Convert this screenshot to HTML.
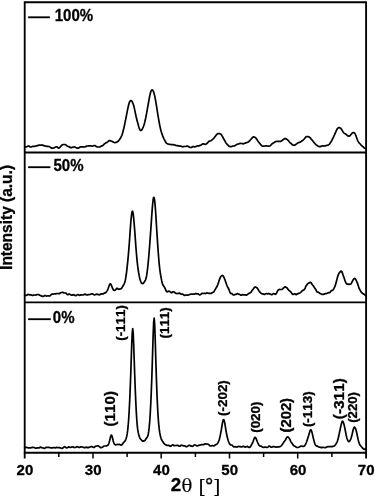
<!DOCTYPE html>
<html>
<head>
<meta charset="utf-8">
<title>XRD patterns</title>
<style>
html,body{margin:0;padding:0;background:#fff;}
body{width:376px;height:498px;overflow:hidden;}
svg{display:block;}
text{font-family:"Liberation Sans",sans-serif;font-weight:bold;fill:#000;stroke:#000;stroke-width:0.3px;font-kerning:none;}
.ax{stroke:#000;stroke-width:1.85;fill:none;stroke-linecap:butt;}
.tk{stroke:#000;stroke-width:1.5;fill:none;}
.cv{stroke:#000;stroke-width:1.7;fill:none;stroke-linejoin:round;stroke-linecap:round;}
.lg{font-size:16.3px;}
.tl{font-size:15px;text-anchor:middle;}
</style>
</head>
<body>
<svg width="376" height="498" viewBox="0 0 376 498">
<rect x="0" y="0" width="376" height="498" fill="#ffffff"/>

<!-- curves -->
<path class="cv" d="M24.7,146.7 L25.2,146.8 L25.7,146.9 L26.2,146.9 L26.7,146.7 L27.2,146.5 L27.7,146.2 L28.2,146.0 L28.7,146.0 L29.2,146.2 L29.7,146.6 L30.2,146.9 L30.7,147.0 L31.2,146.9 L31.7,146.7 L32.2,146.5 L32.7,146.4 L33.2,146.4 L33.7,146.4 L34.2,146.4 L34.7,146.3 L35.2,146.2 L35.7,146.0 L36.2,145.9 L36.7,145.8 L37.2,145.7 L37.7,145.6 L38.2,145.4 L38.7,145.2 L39.2,145.1 L39.7,145.1 L40.2,145.2 L40.7,145.2 L41.2,145.1 L41.7,145.1 L42.2,145.1 L42.7,145.1 L43.2,145.4 L43.7,145.6 L44.2,145.8 L44.7,145.9 L45.2,146.0 L45.7,146.1 L46.2,146.2 L46.7,146.4 L47.2,146.4 L47.7,146.4 L48.2,146.4 L48.7,146.5 L49.2,146.6 L49.7,146.8 L50.2,147.2 L50.7,147.6 L51.2,147.9 L51.7,148.1 L52.2,148.1 L52.7,148.1 L53.2,148.1 L53.7,148.0 L54.2,147.8 L54.7,147.5 L55.2,147.2 L55.7,147.0 L56.2,146.9 L56.7,146.8 L57.2,147.0 L57.7,147.4 L58.2,147.9 L58.7,148.1 L59.2,148.0 L59.7,147.6 L60.2,147.0 L60.7,146.4 L61.2,145.8 L61.7,145.3 L62.2,144.9 L62.7,144.7 L63.2,144.5 L63.7,144.5 L64.2,144.5 L64.7,144.5 L65.2,144.6 L65.7,144.8 L66.2,145.2 L66.7,145.7 L67.2,146.1 L67.7,146.3 L68.2,146.5 L68.7,146.6 L69.2,146.9 L69.7,147.1 L70.2,147.4 L70.7,147.6 L71.2,147.7 L71.7,147.6 L72.2,147.4 L72.7,147.2 L73.2,147.1 L73.7,147.0 L74.2,146.9 L74.7,147.0 L75.2,147.2 L75.7,147.5 L76.2,147.7 L76.7,147.9 L77.2,148.1 L77.7,148.2 L78.2,148.2 L78.7,148.0 L79.2,147.6 L79.7,147.2 L80.2,146.9 L80.7,146.8 L81.2,146.8 L81.7,146.9 L82.2,147.0 L82.7,146.9 L83.2,146.9 L83.7,146.9 L84.2,147.0 L84.7,147.0 L85.2,146.8 L85.7,146.6 L86.2,146.4 L86.7,146.1 L87.2,146.0 L87.7,146.0 L88.2,145.9 L88.7,145.9 L89.2,145.8 L89.7,145.8 L90.2,145.8 L90.7,145.8 L91.2,145.9 L91.7,146.0 L92.2,146.1 L92.7,146.0 L93.2,145.9 L93.7,145.7 L94.2,145.6 L94.7,145.6 L95.2,145.7 L95.7,146.0 L96.2,146.4 L96.7,146.7 L97.2,146.9 L97.7,147.0 L98.2,147.0 L98.7,147.0 L99.2,147.0 L99.7,146.9 L100.2,146.7 L100.7,146.4 L101.2,146.1 L101.7,145.9 L102.2,145.8 L102.7,145.6 L103.2,145.2 L103.7,144.7 L104.2,144.2 L104.7,143.7 L105.2,143.3 L105.7,143.0 L106.2,142.8 L106.7,142.6 L107.2,142.2 L107.7,141.8 L108.2,141.3 L108.7,141.0 L109.2,140.7 L109.7,140.6 L110.2,140.7 L110.7,140.9 L111.2,141.0 L111.7,141.2 L112.2,141.4 L112.7,141.7 L113.2,142.0 L113.7,142.3 L114.2,142.5 L114.7,142.6 L115.2,142.6 L115.7,142.5 L116.2,142.3 L116.7,142.2 L117.2,141.9 L117.7,141.6 L118.2,141.2 L118.7,140.6 L119.2,140.0 L119.7,139.3 L120.2,138.5 L120.7,137.7 L121.2,136.7 L121.7,135.6 L122.2,134.3 L122.7,132.7 L123.2,130.8 L123.7,128.8 L124.2,126.6 L124.7,124.2 L125.2,121.7 L125.7,119.3 L126.2,116.8 L126.7,114.2 L127.2,111.7 L127.7,109.2 L128.2,106.8 L128.7,104.7 L129.2,102.9 L129.7,101.7 L130.2,100.9 L130.7,100.6 L131.2,100.7 L131.7,101.1 L132.2,101.8 L132.7,102.8 L133.2,104.1 L133.7,105.7 L134.2,107.6 L134.7,109.9 L135.2,112.3 L135.7,114.7 L136.2,117.0 L136.7,119.0 L137.2,121.0 L137.7,122.9 L138.2,124.7 L138.7,126.5 L139.2,128.1 L139.7,129.3 L140.2,130.2 L140.7,130.5 L141.2,130.4 L141.7,129.9 L142.2,129.2 L142.7,128.2 L143.2,127.1 L143.7,125.7 L144.2,124.2 L144.7,122.4 L145.2,120.3 L145.7,118.0 L146.2,115.4 L146.7,112.8 L147.2,110.0 L147.7,107.2 L148.2,104.3 L148.7,101.5 L149.2,98.7 L149.7,96.1 L150.2,93.8 L150.7,92.0 L151.2,90.8 L151.7,90.1 L152.2,89.9 L152.7,90.2 L153.2,91.0 L153.7,92.2 L154.2,93.9 L154.7,95.9 L155.2,98.4 L155.7,101.2 L156.2,104.1 L156.7,107.2 L157.2,110.4 L157.7,113.6 L158.2,116.7 L158.7,119.6 L159.2,122.4 L159.7,125.1 L160.2,127.5 L160.7,129.7 L161.2,131.5 L161.7,133.1 L162.2,134.5 L162.7,135.9 L163.2,137.2 L163.7,138.3 L164.2,139.3 L164.7,140.2 L165.2,141.2 L165.7,142.0 L166.2,142.8 L166.7,143.3 L167.2,143.7 L167.7,143.9 L168.2,144.0 L168.7,144.2 L169.2,144.3 L169.7,144.3 L170.2,144.4 L170.7,144.5 L171.2,144.6 L171.7,144.6 L172.2,144.6 L172.7,144.7 L173.2,144.7 L173.7,144.8 L174.2,144.9 L174.7,145.0 L175.2,145.1 L175.7,145.4 L176.2,145.5 L176.7,145.7 L177.2,145.7 L177.7,145.7 L178.2,145.8 L178.7,145.8 L179.2,146.0 L179.7,146.1 L180.2,146.1 L180.7,146.1 L181.2,146.3 L181.7,146.5 L182.2,146.7 L182.7,146.8 L183.2,146.7 L183.7,146.6 L184.2,146.5 L184.7,146.5 L185.2,146.5 L185.7,146.5 L186.2,146.3 L186.7,146.1 L187.2,146.1 L187.7,146.1 L188.2,146.4 L188.7,146.7 L189.2,147.1 L189.7,147.3 L190.2,147.5 L190.7,147.5 L191.2,147.4 L191.7,147.2 L192.2,146.9 L192.7,146.7 L193.2,146.6 L193.7,146.6 L194.2,146.8 L194.7,146.8 L195.2,146.8 L195.7,146.6 L196.2,146.4 L196.7,146.2 L197.2,146.0 L197.7,145.9 L198.2,145.9 L198.7,145.9 L199.2,145.8 L199.7,145.6 L200.2,145.4 L200.7,145.2 L201.2,144.9 L201.7,144.6 L202.2,144.2 L202.7,143.9 L203.2,143.8 L203.7,143.9 L204.2,144.1 L204.7,144.2 L205.2,144.3 L205.7,144.2 L206.2,144.0 L206.7,143.7 L207.2,143.2 L207.7,142.7 L208.2,142.1 L208.7,141.6 L209.2,141.3 L209.7,141.1 L210.2,141.0 L210.7,140.8 L211.2,140.5 L211.7,140.1 L212.2,139.6 L212.7,139.2 L213.2,138.8 L213.7,138.3 L214.2,137.8 L214.7,137.1 L215.2,136.4 L215.7,135.7 L216.2,135.1 L216.7,134.5 L217.2,134.1 L217.7,133.7 L218.2,133.6 L218.7,133.5 L219.2,133.6 L219.7,133.7 L220.2,133.8 L220.7,134.2 L221.2,134.7 L221.7,135.3 L222.2,136.1 L222.7,137.0 L223.2,138.0 L223.7,138.9 L224.2,139.8 L224.7,140.6 L225.2,141.5 L225.7,142.4 L226.2,143.2 L226.7,143.8 L227.2,144.4 L227.7,144.9 L228.2,145.4 L228.7,145.9 L229.2,146.2 L229.7,146.4 L230.2,146.6 L230.7,146.7 L231.2,146.6 L231.7,146.5 L232.2,146.3 L232.7,146.1 L233.2,146.0 L233.7,146.0 L234.2,145.9 L234.7,145.8 L235.2,145.5 L235.7,145.2 L236.2,144.8 L236.7,144.5 L237.2,144.3 L237.7,144.2 L238.2,144.0 L238.7,143.9 L239.2,143.7 L239.7,143.5 L240.2,143.4 L240.7,143.4 L241.2,143.5 L241.7,143.5 L242.2,143.7 L242.7,143.7 L243.2,143.8 L243.7,143.7 L244.2,143.5 L244.7,143.3 L245.2,143.1 L245.7,142.9 L246.2,142.7 L246.7,142.6 L247.2,142.5 L247.7,142.3 L248.2,142.1 L248.7,141.7 L249.2,141.2 L249.7,140.6 L250.2,140.1 L250.7,139.5 L251.2,139.0 L251.7,138.4 L252.2,137.8 L252.7,137.3 L253.2,136.9 L253.7,136.9 L254.2,137.0 L254.7,137.2 L255.2,137.5 L255.7,137.9 L256.2,138.5 L256.7,139.2 L257.2,139.9 L257.7,140.7 L258.2,141.4 L258.7,142.2 L259.2,142.8 L259.7,143.4 L260.2,144.0 L260.7,144.7 L261.2,145.2 L261.7,145.7 L262.2,146.0 L262.7,146.2 L263.2,146.2 L263.7,146.2 L264.2,146.1 L264.7,146.0 L265.2,146.0 L265.7,145.9 L266.2,145.9 L266.7,145.9 L267.2,146.0 L267.7,146.0 L268.2,146.1 L268.7,146.1 L269.2,146.1 L269.7,146.0 L270.2,145.7 L270.7,145.3 L271.2,144.7 L271.7,144.1 L272.2,143.7 L272.7,143.4 L273.2,143.1 L273.7,142.8 L274.2,142.5 L274.7,142.1 L275.2,141.9 L275.7,141.6 L276.2,141.5 L276.7,141.4 L277.2,141.4 L277.7,141.4 L278.2,141.4 L278.7,141.4 L279.2,141.4 L279.7,141.5 L280.2,141.4 L280.7,141.3 L281.2,141.1 L281.7,140.8 L282.2,140.4 L282.7,140.0 L283.2,139.6 L283.7,139.2 L284.2,138.9 L284.7,138.6 L285.2,138.6 L285.7,138.7 L286.2,138.9 L286.7,139.3 L287.2,139.6 L287.7,140.0 L288.2,140.5 L288.7,141.0 L289.2,141.7 L289.7,142.3 L290.2,142.8 L290.7,143.2 L291.2,143.7 L291.7,144.2 L292.2,144.7 L292.7,145.0 L293.2,145.2 L293.7,145.2 L294.2,145.2 L294.7,145.1 L295.2,144.9 L295.7,144.6 L296.2,144.2 L296.7,143.8 L297.2,143.4 L297.7,143.0 L298.2,142.8 L298.7,142.6 L299.2,142.4 L299.7,142.3 L300.2,142.1 L300.7,141.7 L301.2,141.4 L301.7,141.0 L302.2,140.7 L302.7,140.4 L303.2,140.0 L303.7,139.5 L304.2,139.0 L304.7,138.4 L305.2,137.7 L305.7,137.1 L306.2,136.7 L306.7,136.5 L307.2,136.5 L307.7,136.6 L308.2,136.7 L308.7,136.8 L309.2,137.0 L309.7,137.4 L310.2,137.9 L310.7,138.4 L311.2,139.1 L311.7,139.6 L312.2,140.2 L312.7,140.8 L313.2,141.5 L313.7,142.1 L314.2,142.7 L314.7,143.3 L315.2,143.9 L315.7,144.3 L316.2,144.8 L316.7,145.2 L317.2,145.6 L317.7,145.9 L318.2,146.2 L318.7,146.4 L319.2,146.6 L319.7,146.6 L320.2,146.6 L320.7,146.4 L321.2,146.3 L321.7,146.1 L322.2,146.0 L322.7,145.9 L323.2,145.8 L323.7,145.8 L324.2,145.9 L324.7,146.0 L325.2,145.9 L325.7,145.7 L326.2,145.5 L326.7,145.3 L327.2,145.3 L327.7,145.2 L328.2,145.0 L328.7,144.7 L329.2,144.3 L329.7,143.8 L330.2,143.1 L330.7,142.3 L331.2,141.5 L331.7,140.6 L332.2,139.6 L332.7,138.6 L333.2,137.6 L333.7,136.6 L334.2,135.5 L334.7,134.4 L335.2,133.2 L335.7,132.1 L336.2,130.9 L336.7,129.8 L337.2,128.9 L337.7,128.3 L338.2,127.9 L338.7,127.7 L339.2,127.6 L339.7,127.7 L340.2,128.0 L340.7,128.4 L341.2,128.9 L341.7,129.6 L342.2,130.4 L342.7,131.3 L343.2,132.2 L343.7,132.8 L344.2,133.2 L344.7,133.5 L345.2,133.7 L345.7,134.0 L346.2,134.5 L346.7,134.9 L347.2,135.4 L347.7,135.7 L348.2,136.0 L348.7,136.1 L349.2,136.1 L349.7,135.9 L350.2,135.4 L350.7,134.8 L351.2,134.2 L351.7,133.6 L352.2,133.1 L352.7,132.7 L353.2,132.5 L353.7,132.5 L354.2,132.7 L354.7,133.3 L355.2,134.0 L355.7,135.1 L356.2,136.4 L356.7,137.9 L357.2,139.3 L357.7,140.6 L358.2,141.6 L358.7,142.4 L359.2,143.0 L359.7,143.5 L360.2,144.0 L360.7,144.6 L361.2,145.1 L361.7,145.7 L362.2,146.1 L362.7,146.5 L363.2,146.9 L363.7,147.4 L364.2,147.9 L364.7,148.2 L365.2,148.5 L365.7,148.7"/>
<path class="cv" d="M24.7,295.5 L25.2,295.4 L25.7,295.4 L26.2,295.4 L26.7,295.2 L27.2,294.9 L27.7,294.6 L28.2,294.4 L28.7,294.5 L29.2,294.7 L29.7,294.8 L30.2,294.8 L30.7,294.8 L31.2,295.0 L31.7,295.2 L32.2,295.3 L32.7,295.3 L33.2,295.3 L33.7,295.1 L34.2,295.0 L34.7,295.0 L35.2,295.1 L35.7,295.0 L36.2,294.9 L36.7,294.8 L37.2,294.6 L37.7,294.5 L38.2,294.5 L38.7,294.6 L39.2,294.9 L39.7,295.3 L40.2,295.5 L40.7,295.7 L41.2,295.8 L41.7,296.1 L42.2,296.3 L42.7,296.4 L43.2,296.3 L43.7,296.2 L44.2,295.9 L44.7,295.6 L45.2,295.6 L45.7,295.8 L46.2,296.0 L46.7,296.1 L47.2,296.0 L47.7,295.9 L48.2,295.9 L48.7,295.9 L49.2,296.0 L49.7,296.0 L50.2,295.7 L50.7,295.2 L51.2,294.6 L51.7,294.2 L52.2,294.1 L52.7,294.2 L53.2,294.1 L53.7,294.0 L54.2,293.9 L54.7,293.9 L55.2,293.9 L55.7,293.8 L56.2,293.7 L56.7,293.6 L57.2,293.5 L57.7,293.5 L58.2,293.6 L58.7,293.7 L59.2,293.7 L59.7,293.4 L60.2,293.0 L60.7,292.7 L61.2,292.5 L61.7,292.5 L62.2,292.4 L62.7,292.4 L63.2,292.6 L63.7,292.8 L64.2,293.0 L64.7,293.0 L65.2,293.0 L65.7,293.0 L66.2,293.4 L66.7,294.0 L67.2,294.5 L67.7,294.7 L68.2,294.4 L68.7,294.2 L69.2,294.1 L69.7,294.2 L70.2,294.5 L70.7,294.8 L71.2,295.1 L71.7,295.2 L72.2,295.1 L72.7,294.9 L73.2,294.7 L73.7,294.7 L74.2,294.9 L74.7,295.2 L75.2,295.5 L75.7,295.6 L76.2,295.6 L76.7,295.2 L77.2,294.8 L77.7,294.6 L78.2,294.6 L78.7,294.9 L79.2,295.2 L79.7,295.3 L80.2,295.1 L80.7,294.9 L81.2,294.9 L81.7,294.9 L82.2,295.0 L82.7,295.0 L83.2,294.9 L83.7,294.7 L84.2,294.4 L84.7,294.2 L85.2,294.2 L85.7,294.5 L86.2,294.8 L86.7,295.0 L87.2,294.9 L87.7,294.8 L88.2,294.7 L88.7,294.6 L89.2,294.6 L89.7,294.5 L90.2,294.4 L90.7,294.2 L91.2,294.0 L91.7,293.8 L92.2,293.8 L92.7,293.9 L93.2,294.3 L93.7,294.6 L94.2,294.8 L94.7,294.8 L95.2,294.7 L95.7,294.5 L96.2,294.3 L96.7,294.2 L97.2,294.3 L97.7,294.3 L98.2,294.5 L98.7,294.7 L99.2,294.8 L99.7,294.7 L100.2,294.4 L100.7,294.1 L101.2,293.9 L101.7,293.8 L102.2,293.8 L102.7,293.9 L103.2,293.9 L103.7,293.6 L104.2,293.2 L104.7,292.9 L105.2,292.8 L105.7,292.7 L106.2,292.2 L106.7,291.4 L107.2,290.6 L107.7,289.7 L108.2,288.5 L108.7,287.0 L109.2,285.5 L109.7,284.3 L110.2,283.8 L110.7,284.1 L111.2,285.0 L111.7,286.2 L112.2,287.4 L112.7,288.7 L113.2,289.7 L113.7,290.2 L114.2,290.3 L114.7,290.3 L115.2,290.2 L115.7,289.7 L116.2,289.0 L116.7,288.4 L117.2,288.3 L117.7,288.6 L118.2,289.1 L118.7,289.3 L119.2,289.2 L119.7,289.0 L120.2,288.9 L120.7,288.9 L121.2,288.7 L121.7,288.2 L122.2,287.3 L122.7,286.4 L123.2,285.5 L123.7,284.7 L124.2,283.8 L124.7,282.5 L125.2,280.7 L125.7,278.2 L126.2,275.0 L126.7,271.1 L127.2,266.7 L127.7,261.9 L128.2,256.7 L128.7,250.9 L129.2,244.6 L129.7,237.7 L130.2,230.4 L130.7,223.5 L131.2,217.8 L131.7,213.6 L132.2,211.3 L132.7,211.4 L133.2,213.8 L133.7,218.3 L134.2,224.0 L134.7,230.5 L135.2,237.4 L135.7,244.4 L136.2,250.8 L136.7,256.6 L137.2,261.8 L137.7,266.2 L138.2,269.8 L138.7,273.0 L139.2,275.7 L139.7,278.1 L140.2,280.0 L140.7,281.5 L141.2,282.6 L141.7,283.2 L142.2,283.5 L142.7,283.6 L143.2,283.4 L143.7,282.9 L144.2,282.1 L144.7,281.3 L145.2,280.6 L145.7,279.5 L146.2,277.8 L146.7,275.2 L147.2,271.7 L147.7,267.5 L148.2,262.7 L148.7,257.3 L149.2,251.2 L149.7,244.6 L150.2,237.9 L150.7,231.0 L151.2,223.8 L151.7,216.4 L152.2,209.4 L152.7,203.5 L153.2,199.3 L153.7,197.3 L154.2,197.8 L154.7,200.8 L155.2,206.1 L155.7,213.1 L156.2,221.0 L156.7,229.2 L157.2,237.1 L157.7,244.6 L158.2,251.7 L158.7,258.2 L159.2,263.9 L159.7,268.6 L160.2,272.4 L160.7,275.5 L161.2,278.2 L161.7,280.7 L162.2,282.9 L162.7,284.5 L163.2,285.4 L163.7,286.1 L164.2,286.8 L164.7,287.7 L165.2,288.7 L165.7,289.9 L166.2,291.0 L166.7,291.7 L167.2,291.8 L167.7,291.5 L168.2,291.3 L168.7,291.2 L169.2,291.2 L169.7,291.5 L170.2,291.8 L170.7,292.2 L171.2,292.6 L171.7,292.6 L172.2,292.4 L172.7,292.1 L173.2,291.8 L173.7,291.8 L174.2,292.0 L174.7,292.4 L175.2,292.9 L175.7,293.2 L176.2,293.4 L176.7,293.5 L177.2,293.6 L177.7,293.5 L178.2,293.4 L178.7,293.3 L179.2,293.2 L179.7,293.2 L180.2,293.5 L180.7,293.9 L181.2,294.2 L181.7,294.2 L182.2,294.1 L182.7,294.2 L183.2,294.5 L183.7,294.9 L184.2,295.3 L184.7,295.3 L185.2,295.2 L185.7,295.0 L186.2,295.0 L186.7,295.1 L187.2,295.1 L187.7,295.1 L188.2,295.0 L188.7,294.9 L189.2,294.7 L189.7,294.5 L190.2,294.2 L190.7,294.0 L191.2,294.0 L191.7,294.1 L192.2,294.2 L192.7,294.1 L193.2,294.1 L193.7,294.2 L194.2,294.2 L194.7,294.0 L195.2,293.7 L195.7,293.6 L196.2,293.7 L196.7,293.8 L197.2,293.8 L197.7,293.8 L198.2,293.9 L198.7,294.3 L199.2,294.7 L199.7,294.9 L200.2,294.7 L200.7,294.4 L201.2,294.0 L201.7,293.6 L202.2,293.3 L202.7,293.3 L203.2,293.5 L203.7,293.5 L204.2,293.4 L204.7,293.4 L205.2,293.5 L205.7,293.6 L206.2,293.3 L206.7,293.0 L207.2,292.8 L207.7,293.0 L208.2,293.2 L208.7,293.3 L209.2,293.3 L209.7,293.3 L210.2,293.3 L210.7,293.4 L211.2,293.4 L211.7,293.1 L212.2,292.8 L212.7,292.5 L213.2,292.2 L213.7,291.9 L214.2,291.2 L214.7,290.3 L215.2,289.4 L215.7,288.6 L216.2,287.8 L216.7,287.0 L217.2,286.0 L217.7,284.8 L218.2,283.4 L218.7,281.9 L219.2,280.3 L219.7,278.9 L220.2,277.6 L220.7,276.6 L221.2,276.1 L221.7,275.7 L222.2,275.4 L222.7,275.5 L223.2,276.0 L223.7,276.9 L224.2,277.9 L224.7,279.1 L225.2,280.5 L225.7,282.0 L226.2,283.4 L226.7,284.8 L227.2,286.1 L227.7,287.1 L228.2,288.0 L228.7,289.0 L229.2,290.3 L229.7,291.6 L230.2,292.8 L230.7,293.4 L231.2,293.5 L231.7,293.6 L232.2,293.9 L232.7,294.4 L233.2,294.9 L233.7,295.0 L234.2,294.9 L234.7,294.6 L235.2,294.5 L235.7,294.4 L236.2,294.3 L236.7,294.0 L237.2,293.7 L237.7,293.7 L238.2,294.0 L238.7,294.2 L239.2,294.3 L239.7,294.4 L240.2,294.7 L240.7,295.1 L241.2,295.2 L241.7,295.1 L242.2,294.8 L242.7,294.7 L243.2,294.7 L243.7,294.9 L244.2,295.0 L244.7,294.9 L245.2,294.8 L245.7,294.9 L246.2,295.1 L246.7,295.1 L247.2,294.7 L247.7,294.3 L248.2,293.8 L248.7,293.5 L249.2,293.2 L249.7,293.0 L250.2,292.7 L250.7,292.4 L251.2,291.9 L251.7,291.1 L252.2,290.3 L252.7,289.7 L253.2,289.1 L253.7,288.4 L254.2,287.6 L254.7,287.1 L255.2,287.1 L255.7,287.2 L256.2,287.4 L256.7,287.6 L257.2,288.0 L257.7,288.7 L258.2,289.5 L258.7,290.4 L259.2,291.2 L259.7,291.9 L260.2,292.4 L260.7,292.9 L261.2,293.3 L261.7,293.7 L262.2,293.9 L262.7,293.9 L263.2,293.9 L263.7,294.2 L264.2,294.4 L264.7,294.4 L265.2,294.1 L265.7,293.7 L266.2,293.5 L266.7,293.6 L267.2,293.8 L267.7,293.9 L268.2,293.7 L268.7,293.6 L269.2,293.7 L269.7,293.9 L270.2,294.1 L270.7,294.3 L271.2,294.6 L271.7,294.7 L272.2,294.6 L272.7,294.2 L273.2,293.7 L273.7,293.5 L274.2,293.7 L274.7,294.0 L275.2,294.3 L275.7,294.2 L276.2,293.7 L276.7,292.8 L277.2,291.7 L277.7,290.8 L278.2,290.1 L278.7,289.7 L279.2,289.5 L279.7,289.4 L280.2,289.5 L280.7,289.5 L281.2,289.5 L281.7,289.5 L282.2,289.2 L282.7,288.8 L283.2,288.3 L283.7,287.8 L284.2,287.4 L284.7,287.0 L285.2,286.9 L285.7,287.1 L286.2,287.4 L286.7,287.7 L287.2,288.2 L287.7,288.9 L288.2,289.5 L288.7,290.1 L289.2,290.5 L289.7,291.0 L290.2,291.4 L290.7,291.9 L291.2,292.5 L291.7,293.2 L292.2,293.9 L292.7,294.3 L293.2,294.4 L293.7,294.2 L294.2,293.9 L294.7,293.8 L295.2,294.1 L295.7,294.4 L296.2,294.6 L296.7,294.4 L297.2,294.0 L297.7,293.7 L298.2,293.6 L298.7,293.4 L299.2,293.2 L299.7,293.0 L300.2,292.7 L300.7,292.3 L301.2,291.8 L301.7,291.3 L302.2,290.8 L302.7,290.5 L303.2,290.1 L303.7,289.9 L304.2,289.6 L304.7,288.9 L305.2,287.8 L305.7,286.6 L306.2,285.6 L306.7,285.0 L307.2,284.4 L307.7,283.8 L308.2,283.3 L308.7,283.1 L309.2,282.9 L309.7,282.6 L310.2,282.4 L310.7,282.4 L311.2,282.8 L311.7,283.6 L312.2,284.5 L312.7,285.2 L313.2,285.8 L313.7,286.5 L314.2,287.2 L314.7,288.0 L315.2,288.7 L315.7,289.5 L316.2,290.4 L316.7,291.4 L317.2,292.1 L317.7,292.2 L318.2,292.2 L318.7,292.4 L319.2,292.8 L319.7,293.3 L320.2,293.6 L320.7,293.8 L321.2,294.0 L321.7,294.2 L322.2,294.4 L322.7,294.4 L323.2,294.4 L323.7,294.3 L324.2,294.1 L324.7,293.9 L325.2,293.7 L325.7,293.6 L326.2,293.6 L326.7,293.5 L327.2,293.2 L327.7,293.0 L328.2,292.8 L328.7,292.7 L329.2,292.7 L329.7,292.6 L330.2,292.2 L330.7,291.5 L331.2,290.8 L331.7,290.5 L332.2,290.4 L332.7,290.3 L333.2,289.7 L333.7,288.8 L334.2,287.8 L334.7,286.9 L335.2,285.7 L335.7,284.1 L336.2,282.2 L336.7,280.3 L337.2,278.4 L337.7,276.6 L338.2,275.0 L338.7,273.8 L339.2,273.0 L339.7,272.4 L340.2,271.7 L340.7,271.2 L341.2,271.0 L341.7,271.5 L342.2,272.5 L342.7,273.9 L343.2,275.4 L343.7,276.8 L344.2,278.3 L344.7,279.7 L345.2,281.1 L345.7,282.3 L346.2,283.3 L346.7,284.0 L347.2,284.2 L347.7,284.0 L348.2,284.1 L348.7,284.3 L349.2,284.4 L349.7,284.3 L350.2,284.2 L350.7,284.0 L351.2,283.6 L351.7,282.7 L352.2,281.6 L352.7,280.6 L353.2,279.8 L353.7,279.0 L354.2,278.5 L354.7,278.4 L355.2,278.7 L355.7,279.5 L356.2,280.4 L356.7,281.5 L357.2,282.6 L357.7,283.9 L358.2,285.5 L358.7,287.1 L359.2,288.5 L359.7,289.4 L360.2,290.3 L360.7,291.2 L361.2,292.0 L361.7,292.7 L362.2,293.1 L362.7,293.4 L363.2,293.7 L363.7,294.0 L364.2,294.4 L364.7,294.8 L365.2,295.2 L365.7,295.6"/>
<path class="cv" d="M24.7,447.3 L25.2,447.5 L25.7,447.6 L26.2,447.4 L26.7,447.4 L27.2,447.5 L27.7,447.7 L28.2,447.8 L28.7,447.8 L29.2,447.8 L29.7,447.8 L30.2,447.9 L30.7,447.8 L31.2,447.7 L31.7,447.6 L32.2,447.4 L32.7,447.4 L33.2,447.4 L33.7,447.5 L34.2,447.6 L34.7,447.7 L35.2,448.0 L35.7,448.2 L36.2,448.2 L36.7,448.1 L37.2,447.8 L37.7,447.8 L38.2,447.8 L38.7,447.9 L39.2,447.8 L39.7,447.5 L40.2,447.2 L40.7,447.2 L41.2,447.4 L41.7,447.6 L42.2,447.8 L42.7,447.8 L43.2,448.0 L43.7,448.2 L44.2,448.3 L44.7,448.3 L45.2,447.9 L45.7,447.6 L46.2,447.4 L46.7,447.4 L47.2,447.4 L47.7,447.4 L48.2,447.3 L48.7,447.4 L49.2,447.5 L49.7,447.6 L50.2,447.7 L50.7,447.8 L51.2,447.8 L51.7,447.8 L52.2,447.8 L52.7,447.8 L53.2,447.7 L53.7,447.7 L54.2,447.7 L54.7,447.7 L55.2,447.8 L55.7,447.8 L56.2,447.6 L56.7,447.4 L57.2,447.5 L57.7,447.6 L58.2,447.7 L58.7,447.6 L59.2,447.6 L59.7,447.7 L60.2,447.8 L60.7,448.0 L61.2,448.2 L61.7,448.4 L62.2,448.4 L62.7,448.2 L63.2,447.7 L63.7,447.2 L64.2,446.8 L64.7,446.7 L65.2,447.0 L65.7,447.4 L66.2,447.8 L66.7,448.0 L67.2,447.8 L67.7,447.5 L68.2,447.1 L68.7,446.9 L69.2,447.1 L69.7,447.3 L70.2,447.5 L70.7,447.4 L71.2,447.2 L71.7,447.1 L72.2,446.9 L72.7,446.8 L73.2,446.9 L73.7,447.2 L74.2,447.5 L74.7,447.6 L75.2,447.5 L75.7,447.3 L76.2,447.1 L76.7,446.8 L77.2,446.7 L77.7,446.8 L78.2,447.1 L78.7,447.3 L79.2,447.4 L79.7,447.3 L80.2,447.1 L80.7,446.9 L81.2,446.9 L81.7,447.0 L82.2,447.0 L82.7,447.1 L83.2,447.2 L83.7,447.4 L84.2,447.6 L84.7,447.6 L85.2,447.6 L85.7,447.4 L86.2,447.2 L86.7,447.2 L87.2,447.4 L87.7,447.7 L88.2,447.7 L88.7,447.4 L89.2,447.2 L89.7,447.0 L90.2,446.9 L90.7,446.8 L91.2,446.6 L91.7,446.5 L92.2,446.6 L92.7,447.0 L93.2,447.3 L93.7,447.5 L94.2,447.4 L94.7,446.9 L95.2,446.5 L95.7,446.2 L96.2,446.1 L96.7,446.0 L97.2,445.9 L97.7,445.9 L98.2,445.9 L98.7,446.1 L99.2,446.5 L99.7,447.0 L100.2,447.4 L100.7,447.6 L101.2,447.6 L101.7,447.5 L102.2,447.3 L102.7,447.0 L103.2,446.6 L103.7,446.2 L104.2,446.0 L104.7,446.0 L105.2,446.0 L105.7,446.0 L106.2,445.9 L106.7,445.7 L107.2,445.6 L107.7,445.3 L108.2,444.8 L108.7,443.8 L109.2,442.3 L109.7,440.4 L110.2,438.3 L110.7,436.3 L111.2,435.1 L111.7,435.3 L112.2,436.7 L112.7,438.8 L113.2,440.9 L113.7,442.6 L114.2,443.7 L114.7,444.4 L115.2,444.8 L115.7,444.9 L116.2,444.7 L116.7,444.5 L117.2,444.4 L117.7,444.5 L118.2,444.6 L118.7,444.5 L119.2,444.3 L119.7,444.4 L120.2,444.7 L120.7,445.0 L121.2,445.1 L121.7,444.9 L122.2,444.5 L122.7,443.8 L123.2,443.0 L123.7,442.3 L124.2,441.8 L124.7,441.4 L125.2,440.7 L125.7,439.6 L126.2,438.2 L126.7,436.4 L127.2,433.9 L127.7,430.2 L128.2,425.2 L128.7,418.7 L129.2,410.5 L129.7,400.5 L130.2,388.9 L130.7,375.4 L131.2,360.4 L131.7,345.3 L132.2,333.3 L132.7,328.7 L133.2,333.2 L133.7,345.0 L134.2,359.8 L134.7,374.5 L135.2,388.0 L135.7,399.9 L136.2,410.2 L136.7,418.7 L137.2,425.0 L137.7,429.4 L138.2,432.4 L138.7,434.5 L139.2,436.2 L139.7,437.6 L140.2,438.5 L140.7,439.2 L141.2,439.8 L141.7,440.4 L142.2,440.9 L142.7,441.1 L143.2,441.1 L143.7,440.9 L144.2,440.9 L144.7,440.7 L145.2,440.2 L145.7,439.3 L146.2,438.5 L146.7,437.9 L147.2,437.3 L147.7,436.2 L148.2,434.4 L148.7,431.4 L149.2,427.2 L149.7,421.7 L150.2,414.3 L150.7,405.1 L151.2,394.0 L151.7,381.0 L152.2,366.1 L152.7,349.8 L153.2,333.6 L153.7,321.6 L154.2,318.2 L154.7,324.9 L155.2,339.1 L155.7,356.0 L156.2,372.4 L156.7,387.0 L157.2,399.4 L157.7,409.6 L158.2,417.8 L158.7,424.1 L159.2,428.9 L159.7,432.4 L160.2,435.1 L160.7,437.2 L161.2,438.8 L161.7,440.0 L162.2,440.8 L162.7,441.5 L163.2,442.2 L163.7,443.0 L164.2,443.7 L164.7,444.2 L165.2,444.5 L165.7,444.8 L166.2,445.1 L166.7,445.3 L167.2,445.3 L167.7,445.3 L168.2,445.3 L168.7,445.4 L169.2,445.6 L169.7,445.9 L170.2,446.1 L170.7,446.3 L171.2,446.0 L171.7,445.5 L172.2,445.0 L172.7,444.8 L173.2,445.1 L173.7,445.5 L174.2,445.7 L174.7,445.7 L175.2,445.5 L175.7,445.5 L176.2,445.5 L176.7,445.4 L177.2,445.3 L177.7,445.3 L178.2,445.6 L178.7,446.0 L179.2,446.2 L179.7,446.2 L180.2,445.9 L180.7,445.6 L181.2,445.3 L181.7,445.2 L182.2,445.4 L182.7,445.6 L183.2,445.7 L183.7,445.8 L184.2,445.8 L184.7,445.9 L185.2,446.1 L185.7,446.5 L186.2,446.7 L186.7,446.7 L187.2,446.5 L187.7,446.1 L188.2,445.7 L188.7,445.4 L189.2,445.3 L189.7,445.4 L190.2,445.6 L190.7,445.9 L191.2,446.1 L191.7,446.2 L192.2,446.3 L192.7,446.2 L193.2,445.9 L193.7,445.4 L194.2,445.0 L194.7,444.9 L195.2,445.0 L195.7,445.2 L196.2,445.5 L196.7,445.8 L197.2,445.8 L197.7,445.8 L198.2,445.6 L198.7,445.4 L199.2,445.2 L199.7,445.1 L200.2,445.0 L200.7,444.9 L201.2,444.8 L201.7,444.6 L202.2,444.5 L202.7,444.6 L203.2,444.6 L203.7,444.6 L204.2,444.4 L204.7,444.0 L205.2,443.8 L205.7,443.8 L206.2,444.0 L206.7,444.1 L207.2,444.0 L207.7,444.0 L208.2,444.2 L208.7,444.6 L209.2,445.1 L209.7,445.6 L210.2,445.9 L210.7,446.0 L211.2,445.9 L211.7,445.7 L212.2,445.5 L212.7,445.6 L213.2,445.8 L213.7,445.9 L214.2,445.8 L214.7,445.4 L215.2,445.0 L215.7,444.6 L216.2,444.5 L216.7,444.3 L217.2,443.9 L217.7,443.1 L218.2,442.2 L218.7,441.1 L219.2,439.7 L219.7,437.9 L220.2,435.7 L220.7,433.2 L221.2,430.5 L221.7,427.4 L222.2,424.3 L222.7,421.6 L223.2,420.0 L223.7,419.6 L224.2,420.6 L224.7,422.8 L225.2,425.7 L225.7,428.8 L226.2,431.8 L226.7,434.4 L227.2,436.8 L227.7,438.8 L228.2,440.5 L228.7,442.0 L229.2,443.2 L229.7,444.0 L230.2,444.6 L230.7,444.9 L231.2,445.0 L231.7,445.0 L232.2,445.3 L232.7,445.9 L233.2,446.4 L233.7,446.8 L234.2,446.9 L234.7,446.7 L235.2,446.7 L235.7,446.8 L236.2,447.0 L236.7,447.1 L237.2,447.0 L237.7,446.7 L238.2,446.4 L238.7,446.4 L239.2,446.5 L239.7,446.6 L240.2,446.6 L240.7,446.7 L241.2,446.9 L241.7,447.0 L242.2,446.8 L242.7,446.4 L243.2,446.2 L243.7,446.3 L244.2,446.7 L244.7,447.0 L245.2,447.1 L245.7,446.9 L246.2,446.7 L246.7,446.5 L247.2,446.4 L247.7,446.6 L248.2,446.9 L248.7,447.3 L249.2,447.5 L249.7,447.4 L250.2,447.0 L250.7,446.3 L251.2,445.3 L251.7,444.4 L252.2,443.5 L252.7,442.5 L253.2,441.2 L253.7,439.7 L254.2,438.4 L254.7,437.6 L255.2,437.3 L255.7,437.8 L256.2,438.8 L256.7,440.1 L257.2,441.5 L257.7,442.7 L258.2,443.7 L258.7,444.7 L259.2,445.5 L259.7,446.0 L260.2,446.1 L260.7,446.0 L261.2,446.1 L261.7,446.5 L262.2,447.0 L262.7,447.2 L263.2,447.3 L263.7,447.3 L264.2,447.3 L264.7,447.2 L265.2,447.1 L265.7,447.1 L266.2,447.3 L266.7,447.5 L267.2,447.5 L267.7,447.3 L268.2,446.8 L268.7,446.2 L269.2,446.0 L269.7,446.2 L270.2,446.6 L270.7,447.0 L271.2,447.2 L271.7,447.2 L272.2,447.0 L272.7,446.7 L273.2,446.6 L273.7,446.6 L274.2,446.7 L274.7,446.8 L275.2,446.8 L275.7,447.0 L276.2,447.2 L276.7,447.2 L277.2,447.0 L277.7,446.8 L278.2,446.8 L278.7,446.8 L279.2,446.8 L279.7,446.7 L280.2,446.5 L280.7,446.2 L281.2,445.8 L281.7,445.2 L282.2,444.6 L282.7,443.9 L283.2,443.1 L283.7,442.3 L284.2,441.6 L284.7,441.0 L285.2,440.3 L285.7,439.5 L286.2,438.5 L286.7,437.6 L287.2,437.0 L287.7,436.9 L288.2,437.1 L288.7,437.6 L289.2,438.2 L289.7,439.1 L290.2,440.2 L290.7,441.3 L291.2,442.2 L291.7,442.9 L292.2,443.5 L292.7,444.3 L293.2,445.1 L293.7,445.7 L294.2,446.0 L294.7,446.1 L295.2,446.4 L295.7,446.8 L296.2,447.2 L296.7,447.4 L297.2,447.5 L297.7,447.5 L298.2,447.4 L298.7,447.2 L299.2,447.0 L299.7,446.8 L300.2,446.5 L300.7,446.2 L301.2,446.1 L301.7,446.0 L302.2,446.2 L302.7,446.3 L303.2,446.4 L303.7,446.3 L304.2,446.1 L304.7,445.6 L305.2,444.9 L305.7,444.0 L306.2,442.8 L306.7,441.5 L307.2,440.1 L307.7,438.6 L308.2,437.0 L308.7,435.3 L309.2,433.4 L309.7,431.7 L310.2,430.4 L310.7,429.8 L311.2,430.1 L311.7,431.4 L312.2,433.3 L312.7,435.4 L313.2,437.5 L313.7,439.6 L314.2,441.5 L314.7,443.2 L315.2,444.6 L315.7,445.4 L316.2,445.8 L316.7,445.9 L317.2,446.1 L317.7,446.3 L318.2,446.7 L318.7,447.0 L319.2,447.2 L319.7,447.2 L320.2,447.2 L320.7,447.4 L321.2,447.6 L321.7,447.6 L322.2,447.4 L322.7,447.4 L323.2,447.4 L323.7,447.5 L324.2,447.5 L324.7,447.6 L325.2,447.7 L325.7,447.6 L326.2,447.3 L326.7,447.0 L327.2,446.8 L327.7,446.7 L328.2,446.7 L328.7,446.7 L329.2,446.7 L329.7,446.6 L330.2,446.6 L330.7,446.6 L331.2,446.7 L331.7,446.7 L332.2,446.6 L332.7,446.4 L333.2,446.3 L333.7,446.2 L334.2,446.0 L334.7,445.6 L335.2,445.0 L335.7,444.3 L336.2,443.5 L336.7,442.6 L337.2,441.6 L337.7,440.2 L338.2,438.3 L338.7,436.2 L339.2,433.9 L339.7,431.5 L340.2,429.1 L340.7,426.8 L341.2,424.6 L341.7,422.7 L342.2,421.4 L342.7,421.2 L343.2,421.9 L343.7,423.4 L344.2,425.3 L344.7,427.6 L345.2,430.0 L345.7,432.7 L346.2,435.2 L346.7,437.4 L347.2,439.0 L347.7,440.3 L348.2,441.2 L348.7,441.7 L349.2,441.5 L349.7,441.0 L350.2,440.1 L350.7,439.1 L351.2,437.7 L351.7,436.1 L352.2,434.1 L352.7,431.8 L353.2,429.7 L353.7,428.1 L354.2,427.2 L354.7,427.2 L355.2,427.9 L355.7,429.1 L356.2,430.7 L356.7,432.7 L357.2,435.2 L357.7,437.6 L358.2,439.8 L358.7,441.7 L359.2,443.3 L359.7,444.5 L360.2,445.3 L360.7,445.9 L361.2,446.5 L361.7,447.0 L362.2,447.6 L362.7,448.2 L363.2,448.7 L363.7,449.1 L364.2,449.3 L364.7,449.2 L365.2,449.3 L365.7,449.6"/>

<!-- frame -->
<path class="ax" d="M24.7,458.4 V2.25 H366.1 V458.4"/>
<path class="ax" d="M24.7,152.5 H366.1 M24.7,302.3 H366.1 M23.85,452.75 H366.95"/>
<!-- ticks -->
<path class="tk" d="M93,453 V458.4 M161.2,453 V458.4 M229.5,453 V458.4 M297.7,453 V458.4"/>
<path class="tk" d="M58.8,453 V457 M127.1,453 V457 M195.4,453 V457 M263.6,453 V457 M331.9,453 V457"/>

<!-- legends -->
<path class="ax" d="M28.1,17.3 H49.9"/>
<text id="g100" class="lg" transform="translate(54.7,20.8) scale(0.922,1)">100%</text>
<path class="ax" d="M28.1,167.2 H50.4"/>
<text id="g50" class="lg" transform="translate(53.5,171.0) scale(0.922,1)">50%</text>
<path class="ax" d="M28.1,319.2 H50.8"/>
<text id="g0" class="lg" transform="translate(52.8,322.9) scale(0.922,1)">0%</text>

<!-- x tick labels -->
<text id="k20" class="tl" x="24.9" y="474.8">20</text>
<text id="k30" class="tl" x="93.2" y="474.8">30</text>
<text id="k40" class="tl" x="161.4" y="474.8">40</text>
<text id="k50" class="tl" x="229.7" y="474.8">50</text>
<text id="k60" class="tl" x="298" y="474.8">60</text>
<text id="k70" class="tl" x="366.2" y="474.8">70</text>

<!-- x title -->
<text id="t2" x="170.8" y="491.4" style="font-size:18.8px;">2</text>
<text id="tth" x="181.6" y="491.5" style="font-family:'DejaVu Serif','Liberation Serif',serif;font-weight:normal;font-size:18px;stroke-width:0.2px;">θ</text>
<text id="tbr" x="199" y="492.6" style="font-family:'DejaVu Serif','Liberation Serif',serif;font-weight:normal;font-size:18px;stroke-width:0.15px;"><tspan x="198.5" style="font-size:19px">[</tspan><tspan x="204.2" style="font-size:19.5px">°</tspan><tspan x="212.9" style="font-size:19px">]</tspan></text>

<!-- y title -->
<text id="ty" transform="translate(12.35,217.45) rotate(-90) scale(1,1.04)" style="font-size:15.5px;text-anchor:middle;">Intensity (a.u.)</text>

<!-- peak labels -->
<g style="font-size:13.4px;stroke-width:0.15px;">
<text id="l110" transform="translate(114.80,426.50) rotate(-90)" style="font-size:15.3px;">(110)</text>
<text id="lm111" transform="translate(125.40,340.80) rotate(-90)">(-111)</text>
<text id="l111" transform="translate(168.85,338.50) rotate(-90)">(111)</text>
<text id="lm202" transform="translate(227.00,415.90) rotate(-90)">(-202)</text>
<text id="l020" transform="translate(260.10,432.80) rotate(-90)">(020)</text>
<text id="l202" transform="translate(291.00,432.50) rotate(-90)" style="font-size:14.8px;">(202)</text>
<text id="lm113" transform="translate(312.30,427.10) rotate(-90)">(-113)</text>
<text id="lm311" transform="translate(343.70,419.20) rotate(-90)" style="font-size:15.4px;">(-311)</text>
<text id="l220" transform="translate(357.45,422.80) rotate(-90)" style="font-size:13.2px;">(220)</text>
</g>
</svg>
</body>
</html>
